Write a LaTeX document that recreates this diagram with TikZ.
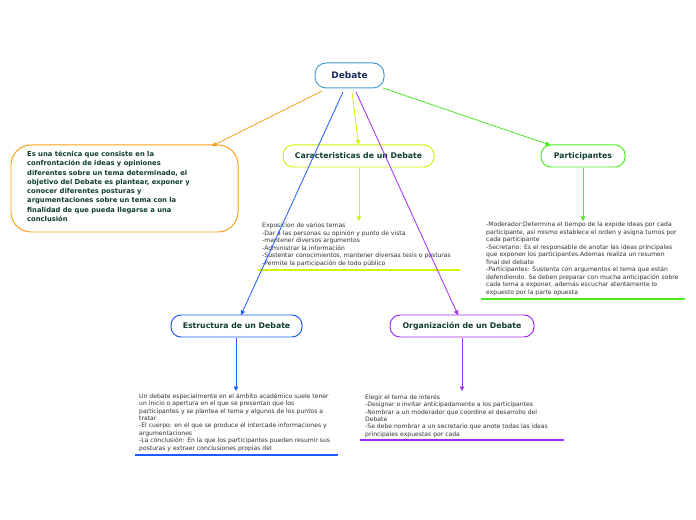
\documentclass[tikz,border=0pt]{standalone}
\usepackage{fontspec}
\setmainfont{DejaVu Sans}
\usetikzlibrary{arrows.meta}
\definecolor{corange}{HTML}{F7A01E}
\definecolor{cyellow}{HTML}{D4F20A}
\definecolor{cgreen}{HTML}{4DEB22}
\definecolor{cblue}{HTML}{1E5BFF}
\definecolor{cpurple}{HTML}{A12BF5}
\definecolor{cdeb}{HTML}{4A9CD6}
\definecolor{clabel}{HTML}{0F3D2E}
\definecolor{cnavy}{HTML}{1A2B5C}
\definecolor{ctext}{HTML}{333333}
\tikzset{
  lbl/.style={draw=#1, line width=1pt, rounded corners=10bp, fill=white, minimum height=22bp, text=clabel, font=\fontsize{7.8}{9}\selectfont\bfseries, inner xsep=8bp},
  body/.style={anchor=north west, inner sep=0pt, align=left, text=ctext, font=\fontsize{6.1}{7.5}\selectfont},
  conn/.style={draw=#1, line width=0.8pt, -{Triangle[length=4.5bp,width=4.5bp]}},
  uline/.style={draw=#1, line width=1.6pt}
}
\begin{document}
\begin{tikzpicture}[x=1bp,y=-1bp]
\useasboundingbox (0,0) rectangle (696,520);
\fill[white] (0,0) rectangle (696,520);
% nodes
\node[draw=cdeb, line width=1pt, rounded corners=11bp, fill=white, minimum width=69bp, minimum height=25bp, text=cnavy, font=\fontsize{9}{10}\selectfont\bfseries] (deb) at (349.5,75.5) {Debate};
\node[draw=corange, line width=1pt, rounded corners=20bp, minimum width=227bp, minimum height=87bp] (def) at (124.5,188.5) {};
\node[anchor=north west, inner sep=0pt, align=left, text=clabel, font=\fontsize{6.8}{9.3}\selectfont\bfseries] (deft) at (27,151) {Es una técnica que consiste en la\\confrontación de ideas y opiniones\\diferentes sobre un tema determinado, el\\objetivo del Debate es plantear, exponer y\\conocer diferentes posturas y\\argumentaciones sobre un tema con la\\finalidad de que pueda llegarse a una\\conclusión};
\node[lbl=cyellow, minimum width=151bp] (car) at (358.5,156) {Caracteristicas de un Debate};
\node[lbl=cgreen, minimum width=84bp] (par) at (583,156) {Participantes};
\node[lbl=cblue, minimum width=131bp] (est) at (236.5,326) {Estructura de un Debate};
\node[lbl=cpurple, minimum width=144bp] (org) at (462,326) {Organización de un Debate};
% text blocks
\node[body] (cart) at (262,223) {Exposicion de varios temas\\-Dar a las personas su opinión y punto de vista\\-mantener diversos argumentos\\-Administrar la información\\-Sustentar conocimientos, mantener diversas tesis o posturas\\-Permite la participación de todo público};
\node[body] (part) at (486,222) {-Moderador:Determina el tiempo de la expide ideas por cada\\participante, así mismo establece el orden y asigna turnos por\\cada participante\\-Secretario: Es el responsable de anotar las ideas principales\\que exponen los participantes.Ademas realiza un resumen\\final del debate\\-Participantes: Sustenta con argumentos el tema que están\\defendiendo. Se deben preparar con mucha anticipación sobre\\cada tema a exponer, además escuchar atentamente lo\\expuesto por la parte opuesta};
\node[body] (estt) at (139,393) {Un debate especialmente en el ámbito académico suele tener\\un inicio o apertura en el que se presentan que los\\participantes y se plantea el tema y algunos de los puntos a\\tratar\\-El cuerpo: en el que se produce el intercade informaciones y\\argumentaciones\\-La conclusión: En la que los participantes pueden resumir sus\\posturas y extraer conclusiones propias del};
\node[body] (orgt) at (365,394) {Elegir el tema de interés\\-Designar o invitar anticipadamente a los participantes\\-Nombrar a un moderador que coordine el desarrollo del\\Debate\\-Se debe nombrar a un secretario que anote todas las ideas\\principales expuestas por cada};
% underlines
\coordinate (cu1) at (258,270); \coordinate (cu2) at (460,270);
\coordinate (pu1) at (481,299); \coordinate (pu2) at (685,299);
\coordinate (eu1) at (135,455); \coordinate (eu2) at (338,455);
\coordinate (ou1) at (360,440); \coordinate (ou2) at (564,440);
\draw[uline=cyellow] (cu1) -- (cu2);
\draw[uline=cgreen] (pu1) -- (pu2);
\draw[uline=cblue] (eu1) -- (eu2);
\draw[uline=cpurple] (ou1) -- (ou2);
% connectors
\coordinate (a1) at (212,146);
\draw[conn=corange] (322,91) -- (a1);
\draw[conn=cyellow] (352,92) -- (car.north);
\draw[conn=cgreen] (383,88) -- (550,145);
\draw[conn=cblue] (343,92) -- (241,315);
\draw[conn=cpurple] (356,92) -- (458,315);
\coordinate (ct) at (359,221); \coordinate (pt) at (583,221);
\coordinate (et) at (236,391); \coordinate (ot) at (462,391);
\draw[conn=cyellow] (359,168) -- (ct);
\draw[conn=cgreen] (583,168) -- (pt);
\draw[conn=cblue] (236,338) -- (et);
\draw[conn=cpurple] (462,338) -- (ot);
\end{tikzpicture}
\end{document}
